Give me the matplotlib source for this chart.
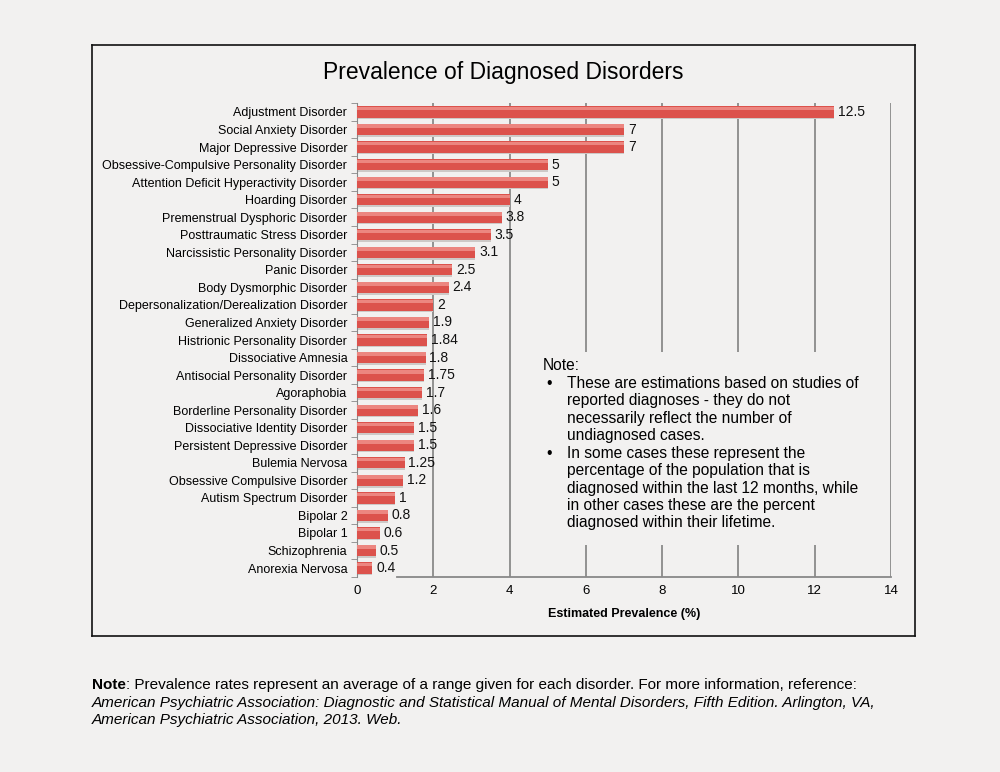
import matplotlib.pyplot as plt
from matplotlib.patches import Rectangle
import numpy as np

plt.rcParams['font.family'] = ['Liberation Sans', 'DejaVu Sans']

disorders = ['Adjustment Disorder', 'Social Anxiety Disorder', 'Major Depressive Disorder',
             'Obsessive-Compulsive Personality Disorder', 'Attention Deficit Hyperactivity Disorder',
             'Hoarding Disorder', 'Premenstrual Dysphoric Disorder', 'Posttraumatic Stress Disorder',
             'Narcissistic Personality Disorder', 'Panic Disorder', 'Body Dysmorphic Disorder',
             'Depersonalization/Derealization Disorder', 'Generalized Anxiety Disorder',
             'Histrionic Personality Disorder', 'Dissociative Amnesia', 'Antisocial Personality Disorder',
             'Agoraphobia', 'Borderline Personality Disorder', 'Dissociative Identity Disorder',
             'Persistent Depressive Disorder', 'Bulemia Nervosa', 'Obsessive Compulsive Disorder',
             'Autism Spectrum Disorder', 'Bipolar 2', 'Bipolar 1', 'Schizophrenia', 'Anorexia Nervosa']
prevalence = [12.5, 7, 7, 5, 5, 4, 3.8, 3.5, 3.1, 2.5, 2.4, 2, 1.9, 1.84, 1.8, 1.75, 1.7,
              1.6, 1.5, 1.5, 1.25, 1.2, 1, 0.8, 0.6, 0.5, 0.4]
value_labels = ['12.5', '7', '7', '5', '5', '4', '3.8', '3.5', '3.1', '2.5', '2.4', '2', '1.9',
                '1.84', '1.8', '1.75', '1.7', '1.6', '1.5', '1.5', '1.25', '1.2', '1', '0.8',
                '0.6', '0.5', '0.4']
xticks = [0, 2, 4, 6, 8, 10, 12, 14]

bg = '#f2f1f0'
fig = plt.figure(figsize=(10, 7.72), dpi=100)
fig.patch.set_facecolor(bg)

# chart frame (behind the axes)
frame = fig.add_axes([0.092, 0.176, 0.823, 0.766], zorder=0)
frame.set_facecolor(bg)
frame.set_xticks([])
frame.set_yticks([])
for s in frame.spines.values():
    s.set_color('#111111')
    s.set_linewidth(1.2)

ax = fig.add_axes([0.357, 0.2528, 0.534, 0.6135], zorder=1)
ax.set_facecolor('none')

y = np.arange(len(disorders))
ax.barh(y + 0.08, prevalence, height=0.66, color='#cdc9c7', zorder=2)  # shadow
ax.barh(y, prevalence, height=0.64, color='#dc524c', zorder=3)
ax.barh(y - 0.19, prevalence, height=0.2, color='#ec8680', zorder=4)  # light top

for yi, v, lab in zip(y, prevalence, value_labels):
    ax.text(v + 0.1, yi, lab, va='center', ha='left', fontsize=10, color='#111111', zorder=5)

ax.set_ylim(len(disorders) - 0.5, -0.5)
ax.set_xlim(0, 14)
ax.set_xticks(xticks)
ax.set_xticklabels([str(t) for t in xticks], fontsize=9.5)
ax.set_yticks(y)
ax.set_yticklabels(disorders, fontsize=9)
ax.set_yticks(np.arange(len(disorders) + 1) - 0.5, minor=True)
ax.tick_params(axis='y', which='major', length=0, pad=7)
ax.tick_params(axis='y', which='minor', length=4, color='#888888')
ax.tick_params(axis='x', length=0, pad=6)

ax.grid(axis='x', color='#8a8a8a', linewidth=1.3, zorder=1)
ax.set_axisbelow(True)
for s in ['top', 'right']:
    ax.spines[s].set_visible(False)
ax.spines['left'].set_color('#888888')
ax.spines['bottom'].set_color('#888888')
ax.spines['bottom'].set_linewidth(1.3)
ax.spines['bottom'].set_bounds(1.05, 14)

ax.set_xlabel('Estimated Prevalence (%)', fontsize=9, fontweight='bold', labelpad=8)

fig.text(0.503, 0.906, 'Prevalence of Diagnosed Disorders', ha='center', va='center', fontsize=16.5)

# note box over the grid
ax.add_patch(Rectangle((4.55, 13.7), 9.0, 11.0, facecolor=bg, edgecolor='none', zorder=2.5))
note_lines = [
    ('', 'Note:'),
    ('•', 'These are estimations based on studies of'),
    ('', 'reported diagnoses - they do not'),
    ('', 'necessarily reflect the number of'),
    ('', 'undiagnosed cases.'),
    ('•', 'In some cases these represent the'),
    ('', 'percentage of the population that is'),
    ('', 'diagnosed within the last 12 months, while'),
    ('', 'in other cases these are the percent'),
    ('', 'diagnosed within their lifetime.'),
]
ny = 0.526
for bullet, line in note_lines:
    if line == 'Note:':
        fig.text(0.543, ny, line, fontsize=11.2, va='center', zorder=5)
    else:
        if bullet:
            fig.text(0.546, ny, bullet, fontsize=11.2, va='center', zorder=5)
        fig.text(0.567, ny, line, fontsize=11.2, va='center', zorder=5)
    ny -= 0.0226

# footnote
fig.text(0.092, 0.113, 'Note', fontsize=11, fontweight='bold', va='center')
fig.text(0.126, 0.113, ': Prevalence rates represent an average of a range given for each disorder. For more information, reference:',
         fontsize=11, va='center')
fig.text(0.092, 0.090, 'American Psychiatric Association: Diagnostic and Statistical Manual of Mental Disorders, Fifth Edition. Arlington, VA,',
         fontsize=11, style='italic', va='center')
fig.text(0.092, 0.067, 'American Psychiatric Association, 2013. Web.',
         fontsize=11, style='italic', va='center')

fig.savefig('out.png', dpi=100, facecolor=fig.get_facecolor())
